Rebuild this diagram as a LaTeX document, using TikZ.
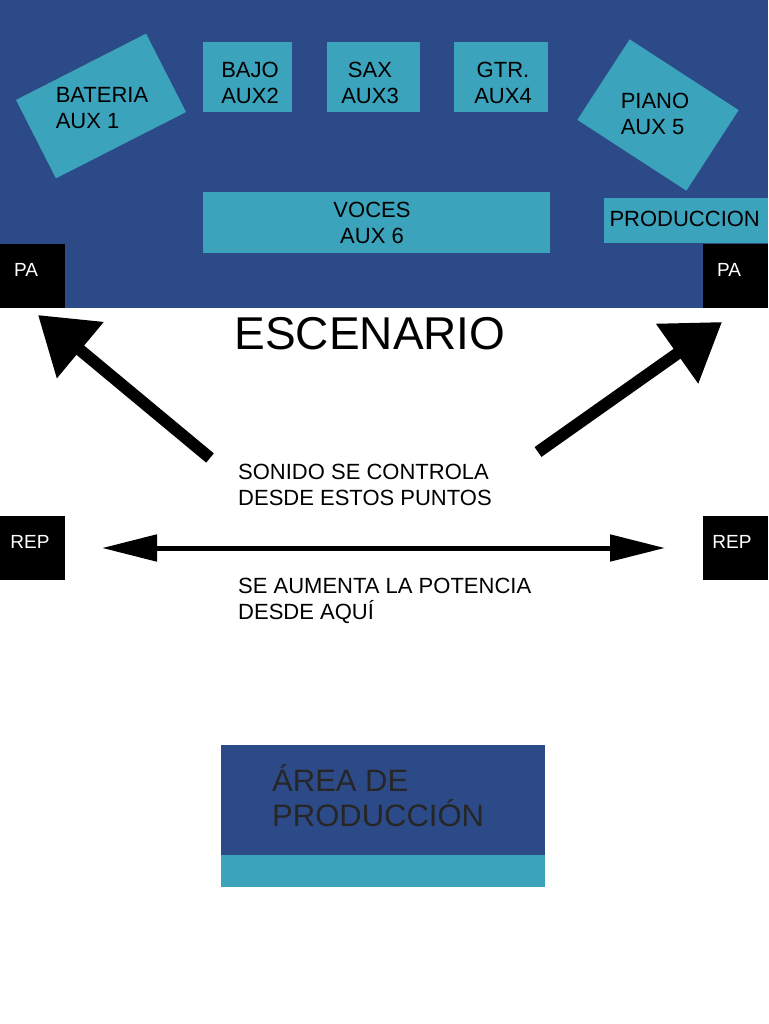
\documentclass[tikz,border=0pt]{standalone}
\usepackage{fontspec}
\setmainfont{Liberation Sans}
\usetikzlibrary{arrows.meta}
\definecolor{stage}{HTML}{2C4A88}
\definecolor{lite}{HTML}{3BA3BC}
\begin{document}
\begin{tikzpicture}[x=1pt,y=-1pt,
  lbox/.style={fill=lite,draw=none},
  lbl/.style={font=\fontsize{22}{26}\selectfont,align=center,text=black},
  blk/.style={fill=black,text=white,font=\fontsize{19}{22}\selectfont}]
\useasboundingbox (0,0) rectangle (768,1024);
\fill[white] (0,0) rectangle (768,1024);
\fill[stage] (0,0) rectangle (768,308);
% rotated boxes
\fill[lite,rotate around={27:(101,106)}] (28,62) rectangle (174,150);
\node[lbl,align=left] (bat) at (102,108) {BATERIA\\AUX 1};
\fill[lite,rotate around={-33:(658,115)}] (593,67) rectangle (723,163);
\node[lbl,align=left] (pia) at (655,114) {PIANO\\AUX 5};
\fill[lbox] (203,42) rectangle (292,112);
\node[lbl] (baj) at (250,83) {BAJO\\AUX2};
\fill[lbox] (327,42) rectangle (420,112);
\node[lbl] (sax) at (370,83) {SAX\\AUX3};
\fill[lbox] (454,42) rectangle (548,112);
\node[lbl] (gtr) at (503,83) {GTR.\\AUX4};
\fill[lbox] (203,192) rectangle (550,253);
\node[lbl] (voc) at (372,223) {VOCES\\AUX 6};
\fill[lbox] (604,198) rectangle (768,243);
\node[lbl,anchor=west] (pro) at (606,219) {PRODUCCION};
\fill[black] (0,244) rectangle (65,308);
\node[blk] (pa1) at (26,270) {PA};
\fill[black] (703,244) rectangle (768,308);
\node[blk] (pa2) at (729,270) {PA};
\node[font=\fontsize{46}{50}\selectfont] (esc) at (370,334) {ESCENARIO};
\coordinate (l0) at (210,458); \coordinate (l1) at (38,315);
\coordinate (r0) at (538,452); \coordinate (r1) at (722,322);
\draw[line width=12pt,-{Triangle[length=55pt,width=70pt]}] (l0) -- (l1);
\draw[line width=12pt,-{Triangle[length=55pt,width=70pt]}] (r0) -- (r1);
\node[lbl,align=left,anchor=north west,inner sep=0pt] (son) at (238,464) {SONIDO SE CONTROLA\\DESDE ESTOS PUNTOS};
\fill[black] (0,516) rectangle (65,580);
\node[blk] (rep1) at (30,542) {REP};
\fill[black] (703,516) rectangle (768,580);
\node[blk] (rep2) at (732,542) {REP};
\coordinate (d0) at (102,548); \coordinate (d1) at (665,548);
\draw[line width=5pt,{Triangle[length=55pt,width=26pt]}-{Triangle[length=55pt,width=26pt]}] (d0) -- (d1);
\node[lbl,align=left,anchor=north west,inner sep=0pt] (pot) at (238,578) {SE AUMENTA LA POTENCIA\\DESDE AQUÍ};
\fill[stage] (221,745) rectangle (545,855);
\fill[lite] (221,855) rectangle (545,887);
\node[align=left,anchor=north west,inner sep=0pt,text=black!85,font=\fontsize{31}{35}\selectfont] (area) at (272,764) {ÁREA DE\\PRODUCCIÓN};
\end{tikzpicture}
\end{document}
